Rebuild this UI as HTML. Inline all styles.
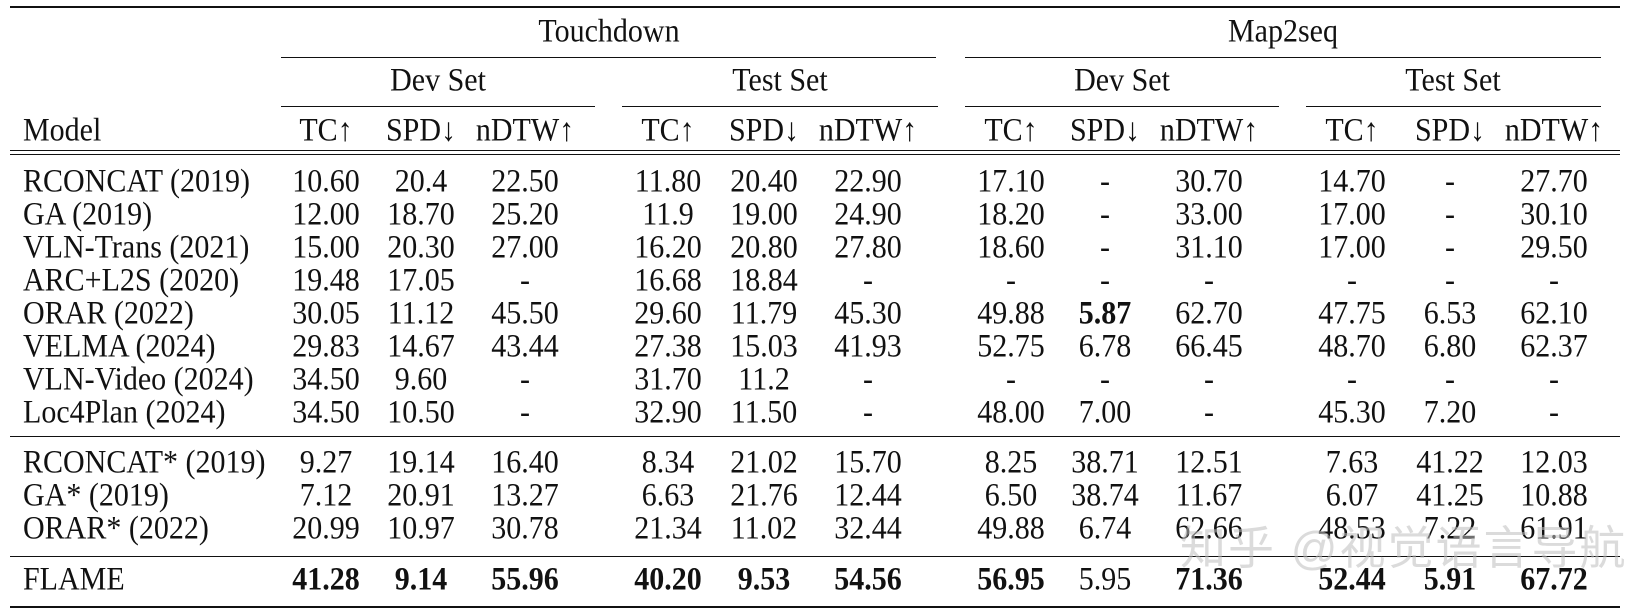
<!DOCTYPE html>
<html><head><meta charset="utf-8"><style>
body{margin:0;background:#fff;}
#p{position:relative;width:1630px;height:613px;overflow:hidden;background:#fff;font-family:"Liberation Serif","DejaVu Serif",serif;font-size:30px;color:#111;}
.h{position:absolute;background:#111;}
.r{position:absolute;left:0;width:1630px;height:0;}
.r span{position:absolute;top:0;transform:translate(-50%,-50%) scaleY(1.08);white-space:nowrap;line-height:1;}
.r span.m{left:23px;transform:translate(0,-50%) scaleY(1.08);}
.a{left:326px}.b{left:421px}.c{left:525px}
.d{left:668px}.e{left:764px}.f{left:868px}
.g{left:1011px}.hh{left:1105px}.i{left:1209px}
.j{left:1352px}.k{left:1450px}.l{left:1554px}
b{font-weight:bold}
.w{position:absolute;left:1180px;top:512px;font-family:"Liberation Sans","Noto Sans CJK SC",sans-serif;font-size:46px;color:rgba(190,190,190,0.55);white-space:nowrap;letter-spacing:2px;}
</style></head><body><div id="p">
<div class="h" style="left:10px;width:1610px;top:6px;height:2px"></div>
<div class="r" style="top:32px"><span style="left:609px">Touchdown</span><span style="left:1283px">Map2seq</span></div>
<div class="h" style="left:281px;width:655px;top:57px;height:1px"></div>
<div class="h" style="left:965px;width:636px;top:57px;height:1px"></div>
<div class="r" style="top:81px"><span style="left:438px">Dev Set</span><span style="left:780px">Test Set</span><span style="left:1122px">Dev Set</span><span style="left:1453px">Test Set</span></div>
<div class="h" style="left:281px;width:314px;top:106px;height:1px"></div>
<div class="h" style="left:622px;width:316px;top:106px;height:1px"></div>
<div class="h" style="left:965px;width:314px;top:106px;height:1px"></div>
<div class="h" style="left:1306px;width:295px;top:106px;height:1px"></div>
<div class="r" style="top:131px"><span class="m">Model</span><span class="a">TC↑</span><span class="b">SPD↓</span><span class="c">nDTW↑</span><span class="d">TC↑</span><span class="e">SPD↓</span><span class="f">nDTW↑</span><span class="g">TC↑</span><span class="hh">SPD↓</span><span class="i">nDTW↑</span><span class="j">TC↑</span><span class="k">SPD↓</span><span class="l">nDTW↑</span></div>
<div class="h" style="left:10px;width:1610px;top:150px;height:1px"></div>
<div class="h" style="left:10px;width:1610px;top:154px;height:1px"></div>

<div class="r" style="top:182px"><span class="m">RCONCAT (2019)</span><span class="a">10.60</span><span class="b">20.4</span><span class="c">22.50</span><span class="d">11.80</span><span class="e">20.40</span><span class="f">22.90</span><span class="g">17.10</span><span class="hh">-</span><span class="i">30.70</span><span class="j">14.70</span><span class="k">-</span><span class="l">27.70</span></div>
<div class="r" style="top:215px"><span class="m">GA (2019)</span><span class="a">12.00</span><span class="b">18.70</span><span class="c">25.20</span><span class="d">11.9</span><span class="e">19.00</span><span class="f">24.90</span><span class="g">18.20</span><span class="hh">-</span><span class="i">33.00</span><span class="j">17.00</span><span class="k">-</span><span class="l">30.10</span></div>
<div class="r" style="top:248px"><span class="m">VLN-Trans (2021)</span><span class="a">15.00</span><span class="b">20.30</span><span class="c">27.00</span><span class="d">16.20</span><span class="e">20.80</span><span class="f">27.80</span><span class="g">18.60</span><span class="hh">-</span><span class="i">31.10</span><span class="j">17.00</span><span class="k">-</span><span class="l">29.50</span></div>
<div class="r" style="top:281px"><span class="m">ARC+L2S (2020)</span><span class="a">19.48</span><span class="b">17.05</span><span class="c">-</span><span class="d">16.68</span><span class="e">18.84</span><span class="f">-</span><span class="g">-</span><span class="hh">-</span><span class="i">-</span><span class="j">-</span><span class="k">-</span><span class="l">-</span></div>
<div class="r" style="top:314px"><span class="m">ORAR (2022)</span><span class="a">30.05</span><span class="b">11.12</span><span class="c">45.50</span><span class="d">29.60</span><span class="e">11.79</span><span class="f">45.30</span><span class="g">49.88</span><span class="hh"><b>5.87</b></span><span class="i">62.70</span><span class="j">47.75</span><span class="k">6.53</span><span class="l">62.10</span></div>
<div class="r" style="top:347px"><span class="m">VELMA (2024)</span><span class="a">29.83</span><span class="b">14.67</span><span class="c">43.44</span><span class="d">27.38</span><span class="e">15.03</span><span class="f">41.93</span><span class="g">52.75</span><span class="hh">6.78</span><span class="i">66.45</span><span class="j">48.70</span><span class="k">6.80</span><span class="l">62.37</span></div>
<div class="r" style="top:380px"><span class="m">VLN-Video (2024)</span><span class="a">34.50</span><span class="b">9.60</span><span class="c">-</span><span class="d">31.70</span><span class="e">11.2</span><span class="f">-</span><span class="g">-</span><span class="hh">-</span><span class="i">-</span><span class="j">-</span><span class="k">-</span><span class="l">-</span></div>
<div class="r" style="top:413px"><span class="m">Loc4Plan (2024)</span><span class="a">34.50</span><span class="b">10.50</span><span class="c">-</span><span class="d">32.90</span><span class="e">11.50</span><span class="f">-</span><span class="g">48.00</span><span class="hh">7.00</span><span class="i">-</span><span class="j">45.30</span><span class="k">7.20</span><span class="l">-</span></div>
<div class="h" style="left:10px;width:1610px;top:436px;height:1px"></div>
<div class="r" style="top:463px"><span class="m">RCONCAT* (2019)</span><span class="a">9.27</span><span class="b">19.14</span><span class="c">16.40</span><span class="d">8.34</span><span class="e">21.02</span><span class="f">15.70</span><span class="g">8.25</span><span class="hh">38.71</span><span class="i">12.51</span><span class="j">7.63</span><span class="k">41.22</span><span class="l">12.03</span></div>
<div class="r" style="top:496px"><span class="m">GA* (2019)</span><span class="a">7.12</span><span class="b">20.91</span><span class="c">13.27</span><span class="d">6.63</span><span class="e">21.76</span><span class="f">12.44</span><span class="g">6.50</span><span class="hh">38.74</span><span class="i">11.67</span><span class="j">6.07</span><span class="k">41.25</span><span class="l">10.88</span></div>
<div class="r" style="top:529px"><span class="m">ORAR* (2022)</span><span class="a">20.99</span><span class="b">10.97</span><span class="c">30.78</span><span class="d">21.34</span><span class="e">11.02</span><span class="f">32.44</span><span class="g">49.88</span><span class="hh">6.74</span><span class="i">62.66</span><span class="j">48.53</span><span class="k">7.22</span><span class="l">61.91</span></div>
<div class="h" style="left:10px;width:1610px;top:556px;height:1px"></div>
<div class="r" style="top:580px"><span class="m">FLAME</span><span class="a"><b>41.28</b></span><span class="b"><b>9.14</b></span><span class="c"><b>55.96</b></span><span class="d"><b>40.20</b></span><span class="e"><b>9.53</b></span><span class="f"><b>54.56</b></span><span class="g"><b>56.95</b></span><span class="hh">5.95</span><span class="i"><b>71.36</b></span><span class="j"><b>52.44</b></span><span class="k"><b>5.91</b></span><span class="l"><b>67.72</b></span></div>
<div class="h" style="left:10px;width:1610px;top:606px;height:2px"></div>
<div class="w">知乎 @视觉语言导航</div>
</div></body></html>
